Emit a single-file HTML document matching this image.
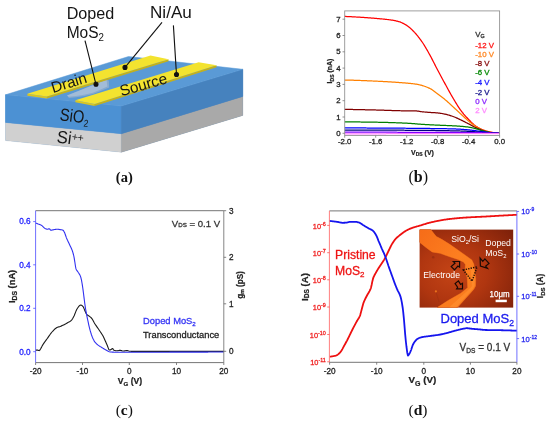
<!DOCTYPE html>
<html><head><meta charset="utf-8"><title>Figure</title>
<style>html,body{margin:0;padding:0;background:#fff;}svg{display:block;}</style></head>
<body>
<svg width="550" height="421" viewBox="0 0 550 421">
<rect width="550" height="421" fill="#fff"/>
<g id="pa">
<polygon points="5.5,94.8 121.4,106.0 121.4,152.2 5.5,140.6" fill="#4c91d3" />
<polygon points="121.4,106.0 242.8,69.3 242.8,115.4 121.4,152.2" fill="#4682be" />
<polygon points="5.5,122.4 121.4,133.7 121.4,152.2 5.5,140.6" fill="#d0d0d0" stroke="#d0d0d0" stroke-width="0.4"/>
<polygon points="121.4,133.7 242.8,96.4 242.8,115.4 121.4,152.2" fill="#a9a9a9" stroke="#a9a9a9" stroke-width="0.4"/>
<polygon points="5.5,94.8 121.4,106.0 121.4,133.7 5.5,122.4" fill="#4c91d3" stroke="#4c91d3" stroke-width="0.5"/>
<polygon points="121.4,106.0 242.8,69.3 242.8,96.4 121.4,133.7" fill="#4682be" stroke="#4682be" stroke-width="0.5"/>
<polygon points="5.5,94.8 121.4,106.0 242.8,69.3 128.5,56.5" fill="#5a9ad6" stroke="#5a9ad6" stroke-width="0.5"/>
<polygon points="67.1,95.6 106.5,79.8 108.8,80.6 109.2,87.4 100.0,91.2 93.2,93.9 84.5,95.9 76.0,97.2 69.0,97.9" fill="#88aace" />
<polygon points="67.1,95.6 106.5,79.8 107.4,86.6 99.5,90.0 92.8,92.7 84.0,94.7 76.0,96.0 68.6,96.8" fill="#a2bcd8" />
<polygon points="27.4,93.8 46.9,96.6 46.9,98.6 27.4,95.8" fill="#d9c522" />
<polygon points="46.9,96.6 168.5,59.2 168.5,61.2 46.9,98.6" fill="#c4b11c" />
<polygon points="27.4,93.8 46.9,96.6 168.5,59.2 150.5,55.5" fill="#f3e32f" />
<polygon points="75.4,100.3 94.7,104.1 94.7,106.1 75.4,102.3" fill="#d9c522" />
<polygon points="94.7,104.1 216.5,65.3 216.5,67.3 94.7,106.1" fill="#c4b11c" />
<polygon points="75.4,100.3 94.7,104.1 216.5,65.3 198.6,62.2" fill="#f3e32f" />
<g stroke="#111" stroke-width="1.1" fill="#111">
<line x1="85" y1="40.7" x2="96" y2="84.3"/><circle cx="96" cy="84.3" r="2"/>
<line x1="162" y1="22.4" x2="125" y2="67.4"/><circle cx="125" cy="67.4" r="2"/>
<line x1="173.4" y1="25.4" x2="176.5" y2="74.5"/><circle cx="176.5" cy="74.5" r="2"/>
</g>
<g font-family="Liberation Sans, sans-serif" fill="#151515">
<text x="66.7" y="19" font-size="16" textLength="47.6" lengthAdjust="spacingAndGlyphs">Doped</text>
<text x="66.7" y="38.2" font-size="16" textLength="37.3" lengthAdjust="spacingAndGlyphs">MoS<tspan font-size="10" dy="3">2</tspan></text>
<text x="150" y="18.3" font-size="16" textLength="41.8" lengthAdjust="spacingAndGlyphs">Ni/Au</text>
<text transform="translate(53,93) rotate(-17)" font-size="15.3">Drain</text>
<text transform="translate(121.5,96.3) rotate(-16)" font-size="15.3">Source</text>
<text transform="translate(59.3,120.2) rotate(7)" font-size="17.6" textLength="29.2" lengthAdjust="spacingAndGlyphs">SiO<tspan font-size="10" dy="3.4">2</tspan></text>
<text transform="translate(56.3,142.4) rotate(7)" font-size="17.6" textLength="26.8" lengthAdjust="spacingAndGlyphs">Si<tspan font-size="11" dy="-4">++</tspan></text>
</g>
<text x="124.3" y="181.7" font-family="Liberation Serif, serif" font-size="14.5" font-weight="bold" text-anchor="middle" fill="#111">(a)</text>
</g>
<g id="pb" font-family="Liberation Sans, sans-serif">
<path d="M344.70,16.43 L345.36,16.46 L346.03,16.49 L346.69,16.52 L347.36,16.55 L348.02,16.58 L348.69,16.61 L349.35,16.64 L350.02,16.67 L350.68,16.71 L351.35,16.74 L352.01,16.78 L352.68,16.81 L353.34,16.85 L354.01,16.88 L354.67,16.92 L355.34,16.96 L356.00,17.00 L356.67,17.03 L357.33,17.07 L358.00,17.11 L358.66,17.15 L359.33,17.19 L359.99,17.23 L360.19,17.24 L360.66,17.27 L361.32,17.31 L361.98,17.36 L362.65,17.40 L363.31,17.44 L363.98,17.49 L364.64,17.53 L365.31,17.58 L365.97,17.62 L366.64,17.67 L367.30,17.72 L367.97,17.77 L368.63,17.82 L369.30,17.87 L369.96,17.92 L370.63,17.97 L371.29,18.02 L371.96,18.07 L372.62,18.13 L373.29,18.18 L373.95,18.24 L374.62,18.29 L375.28,18.35 L375.68,18.39 L375.95,18.41 L376.61,18.47 L377.28,18.52 L377.94,18.58 L378.61,18.64 L379.27,18.70 L379.93,18.76 L380.60,18.82 L381.26,18.88 L381.93,18.94 L382.59,19.00 L383.26,19.07 L383.92,19.14 L384.59,19.20 L385.25,19.27 L385.92,19.35 L386.58,19.42 L387.25,19.50 L387.91,19.58 L388.58,19.66 L389.24,19.75 L389.91,19.84 L390.57,19.93 L391.17,20.02 L391.24,20.02 L391.90,20.12 L392.57,20.23 L393.23,20.34 L393.90,20.46 L394.56,20.59 L395.23,20.73 L395.89,20.87 L396.55,21.02 L397.22,21.18 L397.88,21.36 L398.55,21.54 L398.92,21.65 L399.21,21.74 L399.88,21.96 L400.54,22.20 L401.21,22.47 L401.87,22.76 L402.54,23.08 L403.20,23.41 L403.87,23.76 L404.53,24.13 L405.20,24.51 L405.86,24.90 L406.53,25.31 L406.66,25.39 L407.19,25.74 L407.86,26.21 L408.52,26.71 L409.19,27.24 L409.85,27.81 L410.52,28.40 L411.18,29.02 L411.85,29.65 L412.51,30.31 L413.18,30.97 L413.84,31.65 L414.41,32.24 L414.50,32.34 L415.17,33.05 L415.83,33.79 L416.50,34.56 L417.16,35.35 L417.83,36.17 L418.49,37.02 L419.16,37.88 L419.82,38.77 L420.49,39.67 L421.15,40.60 L421.82,41.54 L422.15,42.02 L422.48,42.50 L423.15,43.50 L423.81,44.54 L424.48,45.61 L425.14,46.70 L425.81,47.82 L426.47,48.97 L427.14,50.13 L427.80,51.30 L428.47,52.49 L429.13,53.68 L429.80,54.88 L429.90,55.06 L430.46,56.09 L431.12,57.33 L431.79,58.60 L432.45,59.89 L433.12,61.19 L433.78,62.50 L434.45,63.82 L435.11,65.14 L435.78,66.45 L436.44,67.75 L437.11,69.04 L437.64,70.06 L437.77,70.31 L438.44,71.56 L439.10,72.81 L439.77,74.06 L440.43,75.29 L441.10,76.53 L441.76,77.76 L442.43,78.99 L443.09,80.21 L443.76,81.43 L444.42,82.64 L445.09,83.86 L445.39,84.40 L445.75,85.07 L446.42,86.28 L447.08,87.50 L447.75,88.71 L448.41,89.93 L449.07,91.13 L449.74,92.34 L450.40,93.53 L451.07,94.70 L451.73,95.87 L452.40,97.02 L453.06,98.14 L453.13,98.26 L453.73,99.26 L454.39,100.38 L455.06,101.49 L455.72,102.60 L456.39,103.70 L457.05,104.78 L457.72,105.84 L458.38,106.88 L459.05,107.89 L459.71,108.86 L460.38,109.80 L460.88,110.48 L461.04,110.70 L461.71,111.57 L462.37,112.42 L463.04,113.24 L463.70,114.05 L464.37,114.83 L465.03,115.59 L465.69,116.34 L466.36,117.07 L467.02,117.79 L467.69,118.49 L468.35,119.17 L468.62,119.45 L469.02,119.85 L469.68,120.53 L470.35,121.20 L471.01,121.87 L471.68,122.52 L472.34,123.16 L473.01,123.78 L473.67,124.38 L474.34,124.95 L475.00,125.48 L475.67,125.98 L476.33,126.43 L476.37,126.45 L477.00,126.86 L477.66,127.27 L478.33,127.66 L478.99,128.04 L479.66,128.41 L480.32,128.75 L480.99,129.08 L481.65,129.39 L482.32,129.68 L482.98,129.95 L483.64,130.20 L484.11,130.37 L484.31,130.43 L484.97,130.65 L485.64,130.86 L486.30,131.05 L486.97,131.24 L487.63,131.42 L488.30,131.59 L488.96,131.74 L489.63,131.89 L490.29,132.03 L490.96,132.16 L491.62,132.28 L491.86,132.32 L492.29,132.39 L492.95,132.50 L493.62,132.61 L494.28,132.71 L494.95,132.81 L495.61,132.90 L496.28,132.98 L496.94,133.06 L497.61,133.13 L498.27,133.20 L498.94,133.25 L499.60,133.30" fill="none" stroke="#ff0000" stroke-width="1.25" stroke-linejoin="round"/>
<path d="M344.70,80.00 L345.36,80.01 L346.03,80.03 L346.69,80.05 L347.36,80.07 L348.02,80.08 L348.69,80.10 L349.35,80.12 L350.02,80.14 L350.68,80.16 L351.35,80.18 L352.01,80.20 L352.68,80.22 L353.34,80.24 L354.01,80.26 L354.67,80.28 L355.34,80.31 L356.00,80.33 L356.67,80.35 L357.33,80.38 L358.00,80.40 L358.66,80.42 L359.33,80.45 L359.99,80.47 L360.66,80.50 L361.32,80.52 L361.98,80.55 L362.65,80.58 L363.31,80.60 L363.98,80.63 L364.64,80.66 L365.31,80.68 L365.97,80.71 L366.64,80.74 L367.30,80.77 L367.97,80.79 L368.63,80.82 L369.30,80.85 L369.96,80.88 L370.63,80.91 L371.29,80.94 L371.96,80.97 L372.62,81.00 L373.29,81.03 L373.95,81.06 L374.62,81.09 L375.28,81.12 L375.68,81.14 L375.95,81.15 L376.61,81.18 L377.28,81.22 L377.94,81.25 L378.61,81.28 L379.27,81.31 L379.93,81.35 L380.60,81.38 L381.26,81.41 L381.93,81.45 L382.59,81.48 L383.26,81.52 L383.92,81.55 L384.59,81.59 L385.25,81.63 L385.92,81.66 L386.58,81.70 L387.25,81.74 L387.91,81.78 L388.58,81.82 L389.24,81.86 L389.91,81.90 L390.57,81.94 L391.24,81.98 L391.90,82.02 L392.57,82.06 L393.23,82.11 L393.90,82.15 L394.56,82.19 L395.23,82.24 L395.89,82.28 L396.55,82.33 L397.22,82.38 L397.88,82.42 L398.55,82.47 L399.21,82.52 L399.88,82.57 L400.54,82.62 L401.21,82.66 L401.87,82.72 L402.54,82.77 L403.20,82.82 L403.87,82.87 L404.53,82.92 L405.20,82.98 L405.86,83.03 L406.53,83.08 L406.66,83.10 L407.19,83.14 L407.86,83.20 L408.52,83.26 L409.19,83.32 L409.85,83.38 L410.52,83.45 L411.18,83.52 L411.85,83.59 L412.51,83.67 L413.18,83.75 L413.84,83.84 L414.41,83.91 L414.50,83.92 L415.17,84.02 L415.83,84.12 L416.50,84.23 L417.16,84.34 L417.83,84.47 L418.49,84.60 L419.16,84.74 L419.82,84.89 L419.83,84.89 L420.49,85.05 L421.15,85.22 L421.82,85.40 L422.48,85.59 L423.15,85.79 L423.81,86.01 L424.48,86.23 L425.14,86.47 L425.81,86.71 L426.47,86.97 L427.14,87.24 L427.80,87.52 L428.47,87.81 L429.13,88.11 L429.80,88.43 L429.90,88.48 L430.46,88.77 L431.12,89.15 L431.79,89.57 L432.45,90.03 L433.12,90.51 L433.78,91.01 L434.45,91.53 L435.11,92.06 L435.78,92.58 L436.44,93.11 L437.11,93.62 L437.64,94.02 L437.77,94.11 L438.44,94.60 L439.10,95.09 L439.77,95.58 L440.43,96.06 L441.10,96.56 L441.76,97.05 L442.43,97.55 L443.09,98.06 L443.76,98.58 L444.42,99.10 L445.09,99.64 L445.39,99.89 L445.75,100.19 L446.42,100.75 L447.08,101.33 L447.75,101.92 L448.41,102.52 L449.07,103.13 L449.74,103.75 L450.40,104.37 L451.07,104.99 L451.73,105.60 L452.40,106.22 L453.06,106.83 L453.13,106.89 L453.73,107.44 L454.39,108.06 L455.06,108.67 L455.72,109.29 L456.39,109.91 L457.05,110.53 L457.72,111.15 L458.38,111.76 L459.05,112.38 L459.71,113.00 L460.38,113.61 L460.88,114.07 L461.04,114.22 L461.71,114.83 L462.37,115.45 L463.04,116.07 L463.70,116.70 L464.37,117.32 L465.03,117.93 L465.69,118.54 L466.36,119.14 L467.02,119.73 L467.69,120.30 L468.35,120.86 L468.62,121.08 L469.02,121.40 L469.68,121.94 L470.35,122.47 L471.01,123.00 L471.68,123.52 L472.34,124.03 L473.01,124.53 L473.67,125.02 L474.34,125.48 L475.00,125.93 L475.67,126.36 L476.33,126.76 L476.37,126.78 L477.00,127.15 L477.66,127.53 L478.33,127.90 L478.99,128.26 L479.66,128.60 L480.32,128.94 L480.99,129.26 L481.65,129.57 L482.32,129.85 L482.98,130.12 L483.64,130.37 L484.11,130.53 L484.31,130.59 L484.97,130.81 L485.64,131.02 L486.30,131.22 L486.97,131.41 L487.63,131.59 L488.30,131.77 L488.96,131.93 L489.63,132.08 L490.29,132.21 L490.96,132.34 L491.62,132.45 L491.86,132.49 L492.29,132.55 L492.95,132.65 L493.62,132.74 L494.28,132.83 L494.95,132.91 L495.61,132.99 L496.28,133.07 L496.94,133.13 L497.61,133.19 L498.27,133.24 L498.94,133.27 L499.60,133.30" fill="none" stroke="#ff8000" stroke-width="1.25" stroke-linejoin="round"/>
<path d="M344.70,109.34 L345.36,109.35 L346.03,109.36 L346.69,109.38 L347.36,109.39 L348.02,109.40 L348.69,109.41 L349.35,109.43 L350.02,109.44 L350.68,109.45 L351.35,109.47 L352.01,109.48 L352.68,109.49 L353.34,109.51 L354.01,109.52 L354.67,109.53 L355.34,109.55 L356.00,109.56 L356.67,109.57 L357.33,109.59 L358.00,109.60 L358.66,109.61 L359.33,109.63 L359.99,109.64 L360.66,109.66 L361.32,109.67 L361.98,109.68 L362.65,109.70 L363.31,109.71 L363.98,109.73 L364.64,109.74 L365.31,109.76 L365.97,109.77 L366.64,109.79 L367.30,109.80 L367.97,109.81 L368.63,109.83 L369.30,109.84 L369.96,109.86 L370.63,109.87 L371.29,109.89 L371.96,109.90 L372.62,109.92 L373.29,109.94 L373.95,109.95 L374.62,109.97 L375.28,109.98 L375.68,109.99 L375.95,110.00 L376.61,110.01 L377.28,110.03 L377.94,110.05 L378.61,110.07 L379.27,110.09 L379.93,110.11 L380.60,110.13 L381.26,110.15 L381.93,110.17 L382.59,110.19 L383.26,110.21 L383.92,110.24 L384.59,110.26 L385.25,110.28 L385.92,110.31 L386.58,110.33 L387.25,110.35 L387.91,110.38 L388.58,110.40 L389.24,110.42 L389.91,110.45 L390.57,110.47 L391.24,110.49 L391.90,110.51 L392.57,110.54 L393.23,110.56 L393.90,110.58 L394.56,110.60 L395.23,110.62 L395.89,110.64 L396.55,110.65 L397.22,110.67 L397.88,110.69 L398.55,110.70 L399.21,110.72 L399.88,110.73 L400.54,110.75 L401.21,110.76 L401.87,110.77 L402.54,110.78 L403.20,110.79 L403.87,110.79 L404.53,110.80 L405.20,110.80 L405.86,110.80 L406.53,110.81 L406.66,110.81 L407.19,110.81 L407.86,110.81 L408.52,110.81 L409.19,110.81 L409.85,110.81 L410.52,110.81 L411.18,110.81 L411.85,110.81 L412.51,110.81 L413.18,110.81 L413.84,110.81 L414.41,110.81 L414.50,110.81 L415.17,110.83 L415.83,110.87 L416.50,110.94 L417.16,111.03 L417.83,111.13 L418.49,111.23 L419.16,111.35 L419.82,111.46 L420.49,111.56 L421.15,111.66 L421.82,111.75 L422.15,111.78 L422.48,111.82 L423.15,111.88 L423.81,111.94 L424.48,112.00 L425.14,112.06 L425.81,112.12 L426.47,112.17 L427.14,112.23 L427.80,112.28 L428.47,112.33 L429.13,112.38 L429.80,112.43 L429.90,112.44 L430.46,112.47 L431.12,112.52 L431.79,112.56 L432.45,112.59 L433.12,112.63 L433.78,112.66 L434.45,112.70 L435.11,112.74 L435.78,112.78 L436.44,112.83 L437.11,112.88 L437.64,112.93 L437.77,112.94 L438.44,113.01 L439.10,113.09 L439.77,113.18 L440.43,113.28 L441.10,113.39 L441.76,113.50 L442.43,113.63 L443.09,113.75 L443.76,113.89 L444.42,114.02 L445.09,114.17 L445.39,114.23 L445.75,114.31 L446.42,114.46 L447.08,114.63 L447.75,114.80 L448.41,114.99 L449.07,115.18 L449.74,115.38 L450.40,115.59 L451.07,115.81 L451.73,116.03 L452.40,116.26 L453.06,116.49 L453.13,116.51 L453.73,116.73 L454.39,116.99 L455.06,117.26 L455.72,117.54 L456.39,117.83 L457.05,118.13 L457.72,118.44 L458.38,118.75 L459.05,119.07 L459.71,119.38 L460.38,119.70 L460.88,119.93 L461.04,120.01 L461.71,120.33 L462.37,120.65 L463.04,120.98 L463.70,121.32 L464.37,121.65 L465.03,121.99 L465.69,122.33 L466.36,122.68 L467.02,123.02 L467.69,123.37 L468.35,123.71 L468.62,123.85 L469.02,124.05 L469.68,124.41 L470.35,124.77 L471.01,125.13 L471.68,125.50 L472.34,125.86 L473.01,126.22 L473.67,126.58 L474.34,126.93 L475.00,127.27 L475.67,127.59 L476.33,127.91 L476.37,127.92 L477.00,128.21 L477.66,128.51 L478.33,128.81 L478.99,129.11 L479.66,129.40 L480.32,129.68 L480.99,129.95 L481.65,130.21 L482.32,130.45 L482.98,130.68 L483.64,130.88 L484.11,131.02 L484.31,131.07 L484.97,131.25 L485.64,131.43 L486.30,131.59 L486.97,131.75 L487.63,131.91 L488.30,132.05 L488.96,132.19 L489.63,132.31 L490.29,132.43 L490.96,132.53 L491.62,132.62 L491.86,132.65 L492.29,132.70 L492.95,132.78 L493.62,132.85 L494.28,132.93 L494.95,133.00 L495.61,133.06 L496.28,133.12 L496.94,133.17 L497.61,133.22 L498.27,133.25 L498.94,133.28 L499.60,133.30" fill="none" stroke="#800000" stroke-width="1.25" stroke-linejoin="round"/>
<path d="M344.70,121.89 L345.36,121.89 L346.03,121.89 L346.69,121.89 L347.36,121.89 L348.02,121.90 L348.69,121.90 L349.35,121.90 L350.02,121.90 L350.68,121.91 L351.35,121.91 L352.01,121.92 L352.68,121.92 L353.34,121.92 L354.01,121.93 L354.67,121.94 L355.34,121.94 L356.00,121.95 L356.67,121.95 L357.33,121.96 L358.00,121.97 L358.66,121.97 L359.33,121.98 L359.99,121.99 L360.66,122.00 L361.32,122.01 L361.98,122.01 L362.65,122.02 L363.31,122.03 L363.98,122.04 L364.64,122.05 L365.31,122.06 L365.97,122.07 L366.64,122.08 L367.30,122.09 L367.97,122.10 L368.63,122.11 L369.30,122.12 L369.96,122.13 L370.63,122.14 L371.29,122.15 L371.96,122.16 L372.62,122.17 L373.29,122.18 L373.95,122.19 L374.62,122.20 L375.28,122.21 L375.68,122.22 L375.95,122.22 L376.61,122.23 L377.28,122.24 L377.94,122.25 L378.61,122.27 L379.27,122.28 L379.93,122.29 L380.60,122.31 L381.26,122.32 L381.93,122.34 L382.59,122.35 L383.26,122.37 L383.92,122.38 L384.59,122.40 L385.25,122.42 L385.92,122.43 L386.58,122.45 L387.25,122.47 L387.91,122.49 L388.58,122.51 L389.24,122.53 L389.91,122.55 L390.57,122.57 L391.24,122.59 L391.90,122.61 L392.57,122.63 L393.23,122.65 L393.90,122.68 L394.56,122.70 L395.23,122.72 L395.89,122.75 L396.55,122.77 L397.22,122.80 L397.88,122.82 L398.55,122.85 L399.21,122.87 L399.88,122.90 L400.54,122.93 L401.21,122.96 L401.87,122.98 L402.54,123.01 L403.20,123.04 L403.87,123.07 L404.53,123.10 L405.20,123.13 L405.86,123.16 L406.53,123.19 L406.66,123.19 L407.19,123.22 L407.86,123.26 L408.52,123.29 L409.19,123.34 L409.85,123.38 L410.52,123.43 L411.18,123.48 L411.85,123.53 L412.51,123.58 L413.18,123.63 L413.84,123.69 L414.50,123.74 L415.17,123.80 L415.83,123.86 L416.50,123.91 L417.16,123.97 L417.83,124.02 L418.49,124.07 L419.16,124.13 L419.82,124.18 L420.49,124.22 L421.15,124.27 L421.82,124.31 L422.15,124.34 L422.48,124.36 L423.15,124.40 L423.81,124.43 L424.48,124.47 L425.14,124.51 L425.81,124.55 L426.47,124.59 L427.14,124.62 L427.80,124.66 L428.47,124.70 L429.13,124.73 L429.80,124.77 L430.46,124.80 L431.12,124.83 L431.79,124.87 L432.45,124.90 L433.12,124.93 L433.78,124.97 L434.45,125.00 L435.11,125.03 L435.78,125.06 L436.44,125.09 L437.11,125.13 L437.64,125.15 L437.77,125.16 L438.44,125.19 L439.10,125.22 L439.77,125.24 L440.43,125.27 L441.10,125.30 L441.76,125.32 L442.43,125.35 L443.09,125.37 L443.76,125.40 L444.42,125.42 L445.09,125.45 L445.75,125.47 L446.42,125.50 L447.08,125.52 L447.75,125.55 L448.41,125.58 L449.07,125.60 L449.74,125.63 L450.40,125.66 L451.07,125.69 L451.73,125.73 L452.40,125.76 L453.06,125.80 L453.13,125.80 L453.73,125.84 L454.39,125.87 L455.06,125.91 L455.72,125.95 L456.39,125.99 L457.05,126.04 L457.72,126.08 L458.38,126.13 L459.05,126.17 L459.71,126.22 L460.38,126.27 L461.04,126.32 L461.71,126.38 L462.37,126.44 L463.04,126.49 L463.70,126.56 L464.37,126.62 L465.03,126.69 L465.69,126.76 L466.36,126.83 L467.02,126.91 L467.69,126.99 L468.35,127.07 L468.62,127.11 L469.02,127.16 L469.68,127.27 L470.35,127.39 L471.01,127.53 L471.68,127.68 L472.34,127.84 L473.01,128.01 L473.67,128.18 L474.34,128.36 L475.00,128.54 L475.67,128.72 L476.33,128.89 L476.37,128.90 L477.00,129.07 L477.66,129.26 L478.33,129.46 L478.99,129.66 L479.66,129.87 L480.32,130.08 L480.99,130.29 L481.65,130.49 L482.32,130.69 L482.98,130.88 L483.64,131.06 L484.11,131.18 L484.31,131.23 L484.97,131.40 L485.64,131.56 L486.30,131.73 L486.97,131.90 L487.63,132.06 L488.30,132.21 L488.96,132.35 L489.63,132.49 L490.29,132.60 L490.96,132.70 L491.62,132.79 L491.86,132.81 L492.29,132.85 L492.95,132.92 L493.62,132.98 L494.28,133.04 L494.95,133.09 L495.61,133.14 L496.28,133.19 L496.94,133.22 L497.61,133.26 L498.27,133.28 L498.94,133.29 L499.60,133.30" fill="none" stroke="#008000" stroke-width="1.25" stroke-linejoin="round"/>
<path d="M344.70,127.92 L345.36,127.92 L346.03,127.92 L346.69,127.93 L347.36,127.93 L348.02,127.93 L348.69,127.93 L349.35,127.93 L350.02,127.93 L350.68,127.94 L351.35,127.94 L352.01,127.94 L352.68,127.94 L353.34,127.94 L354.01,127.95 L354.67,127.95 L355.34,127.95 L356.00,127.95 L356.67,127.96 L357.33,127.96 L358.00,127.96 L358.66,127.96 L359.33,127.97 L359.99,127.97 L360.66,127.97 L361.32,127.97 L361.98,127.98 L362.65,127.98 L363.31,127.98 L363.98,127.99 L364.64,127.99 L365.31,127.99 L365.97,127.99 L366.64,128.00 L367.30,128.00 L367.97,128.00 L368.63,128.01 L369.30,128.01 L369.96,128.01 L370.63,128.02 L371.29,128.02 L371.96,128.02 L372.62,128.03 L373.29,128.03 L373.95,128.03 L374.62,128.04 L375.28,128.04 L375.95,128.04 L376.61,128.05 L377.28,128.05 L377.94,128.05 L378.61,128.06 L379.27,128.06 L379.93,128.06 L380.60,128.07 L381.26,128.07 L381.93,128.08 L382.59,128.08 L383.26,128.08 L383.43,128.08 L383.92,128.09 L384.59,128.09 L385.25,128.09 L385.92,128.10 L386.58,128.10 L387.25,128.11 L387.91,128.11 L388.58,128.11 L389.24,128.12 L389.91,128.12 L390.57,128.13 L391.24,128.13 L391.90,128.14 L392.57,128.14 L393.23,128.15 L393.90,128.15 L394.56,128.16 L395.23,128.16 L395.89,128.17 L396.55,128.17 L397.22,128.18 L397.88,128.18 L398.55,128.19 L399.21,128.19 L399.88,128.20 L400.54,128.20 L401.21,128.21 L401.87,128.21 L402.54,128.22 L403.20,128.22 L403.87,128.23 L404.53,128.24 L405.20,128.24 L405.86,128.25 L406.53,128.25 L407.19,128.26 L407.86,128.27 L408.52,128.27 L409.19,128.28 L409.85,128.28 L410.52,128.29 L411.18,128.30 L411.85,128.30 L412.51,128.31 L413.18,128.32 L413.84,128.32 L414.50,128.33 L415.17,128.34 L415.83,128.34 L416.50,128.35 L417.16,128.36 L417.83,128.36 L418.49,128.37 L419.16,128.38 L419.82,128.38 L420.49,128.39 L421.15,128.40 L421.82,128.41 L422.15,128.41 L422.48,128.41 L423.15,128.42 L423.81,128.43 L424.48,128.44 L425.14,128.44 L425.81,128.45 L426.47,128.46 L427.14,128.46 L427.80,128.47 L428.47,128.48 L429.13,128.49 L429.80,128.49 L430.46,128.50 L431.12,128.51 L431.79,128.52 L432.45,128.53 L433.12,128.53 L433.78,128.54 L434.45,128.55 L435.11,128.56 L435.78,128.57 L436.44,128.58 L437.11,128.59 L437.77,128.59 L438.44,128.60 L439.10,128.61 L439.77,128.62 L440.43,128.63 L441.10,128.64 L441.76,128.66 L442.43,128.67 L443.09,128.68 L443.76,128.69 L444.42,128.70 L445.09,128.72 L445.75,128.73 L446.42,128.74 L447.08,128.75 L447.75,128.77 L448.41,128.78 L449.07,128.80 L449.74,128.81 L450.40,128.83 L451.07,128.85 L451.73,128.86 L452.40,128.88 L453.06,128.90 L453.13,128.90 L453.73,128.92 L454.39,128.94 L455.06,128.96 L455.72,128.99 L456.39,129.02 L457.05,129.05 L457.72,129.09 L458.38,129.12 L459.05,129.16 L459.71,129.20 L460.38,129.24 L461.04,129.29 L461.71,129.33 L462.37,129.38 L463.04,129.43 L463.70,129.48 L464.37,129.53 L465.03,129.58 L465.69,129.63 L466.36,129.69 L467.02,129.74 L467.69,129.80 L468.35,129.85 L468.62,129.88 L469.02,129.91 L469.68,129.98 L470.35,130.04 L471.01,130.12 L471.68,130.20 L472.34,130.28 L473.01,130.36 L473.67,130.45 L474.34,130.54 L475.00,130.63 L475.67,130.72 L476.33,130.82 L477.00,130.91 L477.66,131.00 L478.33,131.09 L478.99,131.18 L479.66,131.27 L480.24,131.34 L480.32,131.35 L480.99,131.44 L481.65,131.53 L482.32,131.62 L482.98,131.71 L483.64,131.81 L484.31,131.90 L484.97,131.99 L485.64,132.09 L486.30,132.18 L486.97,132.27 L487.63,132.35 L488.30,132.44 L488.96,132.52 L489.63,132.59 L490.29,132.67 L490.96,132.73 L491.62,132.79 L491.86,132.81 L492.29,132.85 L492.95,132.90 L493.62,132.95 L494.28,133.00 L494.95,133.05 L495.61,133.09 L496.28,133.13 L496.94,133.17 L497.61,133.21 L498.27,133.24 L498.94,133.27 L499.60,133.30" fill="none" stroke="#0000ff" stroke-width="1.25" stroke-linejoin="round"/>
<path d="M344.70,130.04 L345.36,130.04 L346.03,130.04 L346.69,130.04 L347.36,130.04 L348.02,130.04 L348.69,130.04 L349.35,130.04 L350.02,130.04 L350.68,130.04 L351.35,130.04 L352.01,130.04 L352.68,130.04 L353.34,130.05 L354.01,130.05 L354.67,130.05 L355.34,130.05 L356.00,130.05 L356.67,130.05 L357.33,130.05 L358.00,130.05 L358.66,130.05 L359.33,130.05 L359.99,130.06 L360.66,130.06 L361.32,130.06 L361.98,130.06 L362.65,130.06 L363.31,130.06 L363.98,130.06 L364.64,130.07 L365.31,130.07 L365.97,130.07 L366.64,130.07 L367.30,130.07 L367.97,130.08 L368.63,130.08 L369.30,130.08 L369.96,130.08 L370.63,130.08 L371.29,130.09 L371.96,130.09 L372.62,130.09 L373.29,130.09 L373.95,130.09 L374.62,130.10 L375.28,130.10 L375.95,130.10 L376.61,130.10 L377.28,130.11 L377.94,130.11 L378.61,130.11 L379.27,130.12 L379.93,130.12 L380.60,130.12 L381.26,130.12 L381.93,130.13 L382.59,130.13 L383.26,130.13 L383.92,130.14 L384.59,130.14 L385.25,130.14 L385.92,130.14 L386.58,130.15 L387.25,130.15 L387.91,130.15 L388.58,130.16 L389.24,130.16 L389.91,130.16 L390.57,130.17 L391.24,130.17 L391.90,130.17 L392.57,130.18 L393.23,130.18 L393.90,130.19 L394.56,130.19 L395.23,130.19 L395.89,130.20 L396.55,130.20 L397.22,130.20 L397.88,130.21 L398.55,130.21 L399.21,130.22 L399.88,130.22 L400.54,130.22 L401.21,130.23 L401.87,130.23 L402.54,130.23 L403.20,130.24 L403.87,130.24 L404.53,130.25 L405.20,130.25 L405.86,130.26 L406.53,130.26 L407.19,130.26 L407.86,130.27 L408.52,130.27 L409.19,130.28 L409.85,130.28 L410.52,130.29 L411.18,130.29 L411.85,130.29 L412.51,130.30 L413.18,130.30 L413.84,130.31 L414.50,130.31 L415.17,130.32 L415.83,130.32 L416.50,130.33 L417.16,130.33 L417.83,130.34 L418.49,130.34 L419.16,130.34 L419.82,130.35 L420.49,130.35 L421.15,130.36 L421.82,130.36 L422.15,130.37 L422.48,130.37 L423.15,130.37 L423.81,130.38 L424.48,130.38 L425.14,130.39 L425.81,130.40 L426.47,130.40 L427.14,130.41 L427.80,130.41 L428.47,130.42 L429.13,130.43 L429.80,130.43 L430.46,130.44 L431.12,130.45 L431.79,130.46 L432.45,130.46 L433.12,130.47 L433.78,130.48 L434.45,130.49 L435.11,130.50 L435.78,130.51 L436.44,130.52 L437.11,130.53 L437.77,130.54 L438.44,130.55 L439.10,130.56 L439.77,130.57 L440.43,130.58 L441.10,130.59 L441.76,130.60 L442.43,130.61 L443.09,130.62 L443.76,130.63 L444.42,130.64 L445.09,130.66 L445.75,130.67 L446.42,130.68 L447.08,130.69 L447.75,130.71 L448.41,130.72 L449.07,130.73 L449.74,130.75 L450.40,130.76 L451.07,130.78 L451.73,130.79 L452.40,130.81 L453.06,130.82 L453.73,130.84 L454.39,130.85 L455.06,130.87 L455.72,130.88 L456.39,130.90 L457.05,130.92 L457.72,130.93 L458.38,130.95 L459.05,130.97 L459.71,130.99 L460.38,131.00 L460.88,131.02 L461.04,131.02 L461.71,131.04 L462.37,131.06 L463.04,131.09 L463.70,131.12 L464.37,131.14 L465.03,131.17 L465.69,131.21 L466.36,131.24 L467.02,131.27 L467.69,131.31 L468.35,131.34 L469.02,131.38 L469.68,131.42 L470.35,131.46 L471.01,131.50 L471.68,131.54 L472.34,131.58 L473.01,131.62 L473.67,131.67 L474.34,131.71 L475.00,131.75 L475.67,131.79 L476.33,131.83 L476.37,131.83 L477.00,131.87 L477.66,131.92 L478.33,131.96 L478.99,132.01 L479.66,132.06 L480.32,132.11 L480.99,132.17 L481.65,132.22 L482.32,132.27 L482.98,132.33 L483.64,132.38 L484.31,132.44 L484.97,132.49 L485.64,132.55 L486.30,132.60 L486.97,132.65 L487.63,132.70 L488.30,132.75 L488.96,132.80 L489.63,132.84 L490.29,132.88 L490.96,132.92 L491.62,132.96 L491.86,132.97 L492.29,133.00 L492.95,133.03 L493.62,133.06 L494.28,133.09 L494.95,133.12 L495.61,133.15 L496.28,133.18 L496.94,133.21 L497.61,133.23 L498.27,133.26 L498.94,133.28 L499.60,133.30" fill="none" stroke="#000080" stroke-width="1.25" stroke-linejoin="round"/>
<path d="M344.70,132.16 L345.36,132.16 L346.03,132.16 L346.69,132.16 L347.36,132.16 L348.02,132.16 L348.69,132.16 L349.35,132.16 L350.02,132.16 L350.68,132.16 L351.35,132.16 L352.01,132.16 L352.68,132.16 L353.34,132.16 L354.01,132.16 L354.67,132.16 L355.34,132.16 L356.00,132.16 L356.67,132.16 L357.33,132.17 L358.00,132.17 L358.66,132.17 L359.33,132.17 L359.99,132.17 L360.66,132.17 L361.32,132.17 L361.98,132.17 L362.65,132.17 L363.31,132.17 L363.98,132.17 L364.64,132.17 L365.31,132.17 L365.97,132.18 L366.64,132.18 L367.30,132.18 L367.97,132.18 L368.63,132.18 L369.30,132.18 L369.96,132.18 L370.63,132.18 L371.29,132.18 L371.96,132.19 L372.62,132.19 L373.29,132.19 L373.95,132.19 L374.62,132.19 L375.28,132.19 L375.95,132.19 L376.61,132.19 L377.28,132.20 L377.94,132.20 L378.61,132.20 L379.27,132.20 L379.93,132.20 L380.60,132.20 L381.26,132.20 L381.93,132.21 L382.59,132.21 L383.26,132.21 L383.92,132.21 L384.59,132.21 L385.25,132.21 L385.92,132.22 L386.58,132.22 L387.25,132.22 L387.91,132.22 L388.58,132.22 L389.24,132.22 L389.91,132.23 L390.57,132.23 L391.24,132.23 L391.90,132.23 L392.57,132.23 L393.23,132.23 L393.90,132.24 L394.56,132.24 L395.23,132.24 L395.89,132.24 L396.55,132.24 L397.22,132.25 L397.88,132.25 L398.55,132.25 L399.21,132.25 L399.88,132.25 L400.54,132.25 L401.21,132.26 L401.87,132.26 L402.54,132.26 L403.20,132.26 L403.87,132.26 L404.53,132.27 L405.20,132.27 L405.86,132.27 L406.53,132.27 L407.19,132.27 L407.86,132.28 L408.52,132.28 L409.19,132.28 L409.85,132.28 L410.52,132.29 L411.18,132.29 L411.85,132.29 L412.51,132.29 L413.18,132.29 L413.84,132.30 L414.50,132.30 L415.17,132.30 L415.83,132.30 L416.50,132.30 L417.16,132.31 L417.83,132.31 L418.49,132.31 L419.16,132.31 L419.82,132.31 L420.49,132.32 L421.15,132.32 L421.82,132.32 L422.15,132.32 L422.48,132.32 L423.15,132.33 L423.81,132.33 L424.48,132.33 L425.14,132.33 L425.81,132.33 L426.47,132.34 L427.14,132.34 L427.80,132.34 L428.47,132.34 L429.13,132.35 L429.80,132.35 L430.46,132.35 L431.12,132.35 L431.79,132.35 L432.45,132.36 L433.12,132.36 L433.78,132.36 L434.45,132.36 L435.11,132.37 L435.78,132.37 L436.44,132.37 L437.11,132.38 L437.77,132.38 L438.44,132.38 L439.10,132.38 L439.77,132.39 L440.43,132.39 L441.10,132.39 L441.76,132.40 L442.43,132.40 L443.09,132.40 L443.76,132.41 L444.42,132.41 L445.09,132.41 L445.75,132.41 L446.42,132.42 L447.08,132.42 L447.75,132.43 L448.41,132.43 L449.07,132.43 L449.74,132.44 L450.40,132.44 L451.07,132.44 L451.73,132.45 L452.40,132.45 L453.06,132.46 L453.73,132.46 L454.39,132.46 L455.06,132.47 L455.72,132.47 L456.39,132.48 L457.05,132.48 L457.72,132.49 L458.38,132.49 L459.05,132.49 L459.71,132.50 L460.38,132.50 L461.04,132.51 L461.71,132.51 L462.37,132.52 L463.04,132.52 L463.70,132.53 L464.37,132.53 L465.03,132.54 L465.69,132.55 L466.36,132.55 L467.02,132.56 L467.69,132.56 L468.35,132.57 L469.02,132.57 L469.68,132.58 L470.35,132.59 L471.01,132.59 L471.68,132.60 L472.34,132.61 L473.01,132.61 L473.67,132.62 L474.34,132.63 L475.00,132.63 L475.67,132.64 L476.33,132.65 L476.37,132.65 L477.00,132.66 L477.66,132.66 L478.33,132.67 L478.99,132.68 L479.66,132.70 L480.32,132.71 L480.99,132.72 L481.65,132.74 L482.32,132.75 L482.98,132.77 L483.64,132.78 L484.31,132.80 L484.97,132.82 L485.64,132.84 L486.30,132.85 L486.97,132.87 L487.63,132.89 L488.30,132.91 L488.96,132.94 L489.63,132.96 L490.29,132.98 L490.96,133.00 L491.62,133.02 L492.29,133.04 L492.95,133.07 L493.62,133.09 L494.28,133.11 L494.95,133.14 L495.61,133.16 L496.28,133.18 L496.94,133.21 L497.61,133.23 L498.27,133.25 L498.94,133.28 L499.60,133.30" fill="none" stroke="#8000ff" stroke-width="1.25" stroke-linejoin="round"/>
<path d="M344.70,133.79 L345.36,133.79 L346.03,133.79 L346.69,133.79 L347.36,133.79 L348.02,133.79 L348.69,133.78 L349.35,133.78 L350.02,133.78 L350.68,133.78 L351.35,133.78 L352.01,133.78 L352.68,133.78 L353.34,133.78 L354.01,133.78 L354.67,133.78 L355.34,133.78 L356.00,133.78 L356.67,133.78 L357.33,133.78 L358.00,133.78 L358.66,133.77 L359.33,133.77 L359.99,133.77 L360.66,133.77 L361.32,133.77 L361.98,133.77 L362.65,133.77 L363.31,133.77 L363.98,133.77 L364.64,133.77 L365.31,133.77 L365.97,133.77 L366.64,133.77 L367.30,133.77 L367.97,133.76 L368.63,133.76 L369.30,133.76 L369.96,133.76 L370.63,133.76 L371.29,133.76 L371.96,133.76 L372.62,133.76 L373.29,133.76 L373.95,133.76 L374.62,133.76 L375.28,133.76 L375.95,133.76 L376.61,133.76 L377.28,133.75 L377.94,133.75 L378.61,133.75 L379.27,133.75 L379.93,133.75 L380.60,133.75 L381.26,133.75 L381.93,133.75 L382.59,133.75 L383.26,133.75 L383.92,133.75 L384.59,133.75 L385.25,133.75 L385.92,133.75 L386.58,133.74 L387.25,133.74 L387.91,133.74 L388.58,133.74 L389.24,133.74 L389.91,133.74 L390.57,133.74 L391.24,133.74 L391.90,133.74 L392.57,133.74 L393.23,133.74 L393.90,133.74 L394.56,133.74 L395.23,133.74 L395.89,133.74 L396.55,133.73 L397.22,133.73 L397.88,133.73 L398.55,133.73 L399.21,133.73 L399.88,133.73 L400.54,133.73 L401.21,133.73 L401.87,133.73 L402.54,133.73 L403.20,133.73 L403.87,133.73 L404.53,133.73 L405.20,133.73 L405.86,133.72 L406.53,133.72 L407.19,133.72 L407.86,133.72 L408.52,133.72 L409.19,133.72 L409.85,133.72 L410.52,133.72 L411.18,133.72 L411.85,133.72 L412.51,133.72 L413.18,133.72 L413.84,133.72 L414.50,133.72 L415.17,133.71 L415.83,133.71 L416.50,133.71 L417.16,133.71 L417.83,133.71 L418.49,133.71 L419.16,133.71 L419.82,133.71 L420.49,133.71 L421.15,133.71 L421.82,133.71 L422.48,133.71 L423.15,133.71 L423.81,133.71 L424.48,133.71 L425.14,133.70 L425.81,133.70 L426.47,133.70 L427.14,133.70 L427.80,133.70 L428.47,133.70 L429.13,133.70 L429.80,133.70 L430.46,133.70 L431.12,133.70 L431.79,133.70 L432.45,133.70 L433.12,133.70 L433.78,133.70 L434.45,133.69 L435.11,133.69 L435.78,133.69 L436.44,133.69 L437.11,133.69 L437.77,133.69 L438.44,133.69 L439.10,133.69 L439.77,133.69 L440.43,133.69 L441.10,133.69 L441.76,133.69 L442.43,133.69 L443.09,133.69 L443.76,133.68 L444.42,133.68 L445.09,133.68 L445.75,133.68 L446.42,133.68 L447.08,133.68 L447.75,133.68 L448.41,133.68 L449.07,133.68 L449.74,133.68 L450.40,133.68 L451.07,133.68 L451.73,133.68 L452.40,133.68 L453.06,133.67 L453.73,133.67 L454.39,133.67 L455.06,133.67 L455.72,133.67 L456.39,133.67 L457.05,133.67 L457.72,133.67 L458.38,133.67 L459.05,133.67 L459.71,133.67 L460.38,133.67 L461.04,133.67 L461.71,133.67 L462.37,133.67 L463.04,133.66 L463.70,133.66 L464.37,133.66 L465.03,133.66 L465.69,133.66 L466.36,133.66 L467.02,133.66 L467.69,133.66 L468.35,133.66 L469.02,133.66 L469.68,133.66 L470.35,133.66 L471.01,133.66 L471.68,133.66 L472.34,133.65 L473.01,133.65 L473.67,133.65 L474.34,133.65 L475.00,133.65 L475.67,133.65 L476.33,133.65 L477.00,133.65 L477.66,133.65 L478.33,133.65 L478.99,133.65 L479.66,133.65 L480.32,133.65 L480.99,133.65 L481.65,133.64 L482.32,133.64 L482.98,133.64 L483.64,133.64 L484.31,133.64 L484.97,133.64 L485.64,133.64 L486.30,133.64 L486.97,133.64 L487.63,133.64 L488.30,133.64 L488.96,133.64 L489.63,133.64 L490.29,133.64 L490.96,133.64 L491.62,133.63 L492.29,133.63 L492.95,133.63 L493.62,133.63 L494.28,133.63 L494.95,133.63 L495.61,133.63 L496.28,133.63 L496.94,133.63 L497.61,133.63 L498.27,133.63 L498.94,133.63 L499.60,133.63" fill="none" stroke="#ff80ff" stroke-width="1.25" stroke-linejoin="round"/>
<rect x="344.7" y="10.9" width="154.90000000000003" height="124.6" fill="none" stroke="#949494" stroke-width="0.9"/>
<line x1="342.5" y1="133.3" x2="344.7" y2="133.3" stroke="#777" stroke-width="0.8"/>
<text x="340.7" y="135.9" font-size="7.8" text-anchor="end" fill="#222" stroke="#222" stroke-width="0.28">0</text>
<line x1="342.5" y1="117.0" x2="344.7" y2="117.0" stroke="#777" stroke-width="0.8"/>
<text x="340.7" y="119.6" font-size="7.8" text-anchor="end" fill="#222" stroke="#222" stroke-width="0.28">1</text>
<line x1="342.5" y1="100.7" x2="344.7" y2="100.7" stroke="#777" stroke-width="0.8"/>
<text x="340.7" y="103.3" font-size="7.8" text-anchor="end" fill="#222" stroke="#222" stroke-width="0.28">2</text>
<line x1="342.5" y1="84.4" x2="344.7" y2="84.4" stroke="#777" stroke-width="0.8"/>
<text x="340.7" y="87.0" font-size="7.8" text-anchor="end" fill="#222" stroke="#222" stroke-width="0.28">3</text>
<line x1="342.5" y1="68.1" x2="344.7" y2="68.1" stroke="#777" stroke-width="0.8"/>
<text x="340.7" y="70.7" font-size="7.8" text-anchor="end" fill="#222" stroke="#222" stroke-width="0.28">4</text>
<line x1="342.5" y1="51.8" x2="344.7" y2="51.8" stroke="#777" stroke-width="0.8"/>
<text x="340.7" y="54.4" font-size="7.8" text-anchor="end" fill="#222" stroke="#222" stroke-width="0.28">5</text>
<line x1="342.5" y1="35.5" x2="344.7" y2="35.5" stroke="#777" stroke-width="0.8"/>
<text x="340.7" y="38.1" font-size="7.8" text-anchor="end" fill="#222" stroke="#222" stroke-width="0.28">6</text>
<line x1="342.5" y1="19.2" x2="344.7" y2="19.2" stroke="#777" stroke-width="0.8"/>
<text x="340.7" y="21.8" font-size="7.8" text-anchor="end" fill="#222" stroke="#222" stroke-width="0.28">7</text>
<line x1="344.7" y1="135.5" x2="344.7" y2="137.7" stroke="#777" stroke-width="0.8"/>
<text x="344.7" y="144.3" font-size="7.8" text-anchor="middle" fill="#222" stroke="#222" stroke-width="0.28">-2.0</text>
<line x1="375.7" y1="135.5" x2="375.7" y2="137.7" stroke="#777" stroke-width="0.8"/>
<text x="375.7" y="144.3" font-size="7.8" text-anchor="middle" fill="#222" stroke="#222" stroke-width="0.28">-1.6</text>
<line x1="406.7" y1="135.5" x2="406.7" y2="137.7" stroke="#777" stroke-width="0.8"/>
<text x="406.7" y="144.3" font-size="7.8" text-anchor="middle" fill="#222" stroke="#222" stroke-width="0.28">-1.2</text>
<line x1="437.6" y1="135.5" x2="437.6" y2="137.7" stroke="#777" stroke-width="0.8"/>
<text x="437.6" y="144.3" font-size="7.8" text-anchor="middle" fill="#222" stroke="#222" stroke-width="0.28">-0.8</text>
<line x1="468.6" y1="135.5" x2="468.6" y2="137.7" stroke="#777" stroke-width="0.8"/>
<text x="468.6" y="144.3" font-size="7.8" text-anchor="middle" fill="#222" stroke="#222" stroke-width="0.28">-0.4</text>
<line x1="499.6" y1="135.5" x2="499.6" y2="137.7" stroke="#777" stroke-width="0.8"/>
<text x="499.6" y="144.3" font-size="7.8" text-anchor="middle" fill="#222" stroke="#222" stroke-width="0.28">0.0</text>
<text x="422.5" y="154.6" font-size="7" font-weight="bold" text-anchor="middle" fill="#222" stroke="#222" stroke-width="0.22">V<tspan font-size="5" dy="1.2">DS</tspan><tspan dy="-1.2"> (V)</tspan></text>
<text transform="translate(332.3,71) rotate(-90)" font-size="7" font-weight="bold" text-anchor="middle" fill="#222" stroke="#222" stroke-width="0.22">I<tspan font-size="5" dy="1.2">DS</tspan><tspan dy="-1.2"> (nA)</tspan></text>
<text x="475.2" y="36.6" font-size="7.85" fill="#333" stroke="#333" stroke-width="0.3">V<tspan font-size="5.4" dy="1.3">G</tspan></text>
<text x="475.2" y="48" font-size="7.85" fill="#ff1818" stroke="#ff1818" stroke-width="0.3">-12 V</text>
<text x="475.2" y="57" font-size="7.85" fill="#ff8a28" stroke="#ff8a28" stroke-width="0.3">-10 V</text>
<text x="475.2" y="66.4" font-size="7.85" fill="#8a1212" stroke="#8a1212" stroke-width="0.3">-8 V</text>
<text x="475.2" y="75.4" font-size="7.85" fill="#0c8c0c" stroke="#0c8c0c" stroke-width="0.3">-6 V</text>
<text x="475.2" y="85" font-size="7.85" fill="#1c1cff" stroke="#1c1cff" stroke-width="0.3">-4 V</text>
<text x="475.2" y="94.6" font-size="7.85" fill="#1a1a8c" stroke="#1a1a8c" stroke-width="0.3">-2 V</text>
<text x="475.2" y="103.6" font-size="7.85" fill="#8c28ff" stroke="#8c28ff" stroke-width="0.3">0 V</text>
<text x="475.2" y="113.2" font-size="7.85" fill="#ff8cff" stroke="#ff8cff" stroke-width="0.3">2 V</text>
<text x="418.3" y="181.7" font-family="Liberation Serif, serif" font-size="16" text-anchor="middle" fill="#111">(<tspan font-weight="bold">b</tspan>)</text>
</g>
<g id="pc" font-family="Liberation Sans, sans-serif">
<path d="M35.60,350.30 L36.27,350.09 L36.93,350.00 L37.00,350.00 L37.60,350.11 L38.26,350.37 L38.93,350.57 L39.20,350.60 L39.59,350.37 L40.26,349.38 L40.50,349.00 L40.92,348.34 L41.59,347.12 L42.25,345.83 L42.92,344.64 L43.00,344.50 L43.58,343.60 L44.25,342.63 L44.91,341.70 L45.58,340.80 L46.24,339.91 L46.91,339.01 L47.50,338.20 L47.57,338.10 L48.24,337.15 L48.90,336.18 L49.57,335.20 L50.23,334.25 L50.90,333.34 L51.56,332.50 L52.00,332.00 L52.23,331.75 L52.89,331.03 L53.56,330.31 L54.22,329.63 L54.89,329.00 L55.55,328.43 L56.22,327.95 L56.88,327.56 L57.00,327.50 L57.55,327.27 L58.21,327.05 L58.88,326.86 L59.54,326.66 L60.00,326.50 L60.21,326.42 L60.87,326.16 L61.54,325.88 L62.20,325.59 L62.87,325.29 L63.53,324.98 L64.10,324.70 L64.20,324.65 L64.86,324.31 L65.53,323.95 L66.19,323.57 L66.86,323.18 L67.52,322.79 L68.00,322.50 L68.19,322.39 L68.85,322.02 L69.52,321.66 L70.18,321.26 L70.85,320.79 L71.30,320.40 L71.51,320.19 L72.18,319.31 L72.84,318.19 L73.51,316.95 L74.00,316.00 L74.17,315.66 L74.84,314.09 L75.50,312.33 L76.17,310.64 L76.83,309.27 L77.00,309.00 L77.50,308.26 L78.16,307.28 L78.83,306.39 L79.49,305.66 L80.16,305.17 L80.80,305.00 L80.82,305.00 L81.49,305.19 L82.15,305.66 L82.82,306.31 L83.00,306.50 L83.48,307.26 L84.15,308.87 L84.81,310.58 L85.00,311.00 L85.48,312.07 L86.14,313.53 L86.70,314.40 L86.81,314.51 L87.47,315.05 L88.14,315.45 L88.80,315.86 L89.00,316.00 L89.47,316.35 L90.13,316.85 L90.80,317.40 L91.40,318.00 L91.46,318.07 L92.13,318.95 L92.79,320.05 L93.46,321.26 L94.12,322.50 L94.79,323.66 L95.00,324.00 L95.45,324.69 L96.12,325.68 L96.78,326.65 L97.45,327.60 L98.11,328.54 L98.78,329.49 L99.44,330.46 L99.80,331.00 L100.11,331.46 L100.77,332.44 L101.44,333.43 L102.10,334.47 L102.77,335.58 L103.00,336.00 L103.43,336.82 L104.10,338.20 L104.76,339.68 L105.43,341.18 L105.70,341.80 L106.09,342.70 L106.76,344.26 L107.42,345.82 L107.50,346.00 L108.09,347.61 L108.75,349.38 L109.30,350.00 L109.42,350.00 L110.08,349.86 L110.75,349.61 L111.00,349.50 L111.41,349.23 L112.08,348.66 L112.50,348.50 L112.74,348.62 L113.41,349.61 L114.00,350.30 L114.07,350.32 L114.74,350.51 L115.40,350.65 L116.07,350.75 L116.73,350.80 L117.00,350.80 L117.40,350.78 L118.06,350.66 L118.73,350.49 L119.39,350.35 L120.00,350.30 L120.06,350.30 L120.72,350.40 L121.39,350.61 L122.05,350.83 L122.72,350.98 L123.00,351.00 L123.38,350.99 L124.05,350.93 L124.71,350.84 L125.38,350.74 L126.04,350.66 L126.71,350.61 L127.00,350.60 L127.37,350.63 L128.04,350.80 L128.70,351.02 L129.37,351.18 L129.50,351.20 L130.03,351.25 L130.70,351.30 L131.36,351.35 L132.03,351.38 L132.69,351.40 L133.00,351.40 L133.36,351.40 L134.02,351.40 L134.69,351.40 L135.35,351.40 L136.02,351.40 L136.68,351.40 L137.35,351.40 L138.01,351.40 L138.68,351.40 L139.34,351.40 L140.01,351.40 L140.67,351.40 L141.34,351.40 L142.00,351.40 L142.67,351.40 L143.33,351.40 L144.00,351.40 L144.66,351.40 L145.33,351.40 L145.99,351.40 L146.66,351.40 L147.32,351.40 L147.99,351.40 L148.65,351.40 L149.32,351.40 L149.98,351.40 L150.65,351.40 L151.31,351.40 L151.98,351.40 L152.64,351.40 L153.31,351.40 L153.97,351.40 L154.64,351.40 L155.30,351.40 L155.97,351.40 L156.63,351.40 L157.30,351.40 L157.96,351.40 L158.63,351.40 L159.29,351.40 L159.96,351.40 L160.62,351.40 L161.29,351.40 L161.95,351.40 L162.62,351.40 L163.28,351.40 L163.95,351.40 L164.61,351.40 L165.28,351.40 L165.94,351.40 L166.61,351.40 L167.27,351.40 L167.94,351.40 L168.60,351.40 L169.27,351.40 L169.93,351.40 L170.60,351.40 L171.26,351.40 L171.93,351.40 L172.59,351.40 L173.26,351.40 L173.92,351.40 L174.59,351.40 L175.25,351.40 L175.92,351.40 L176.58,351.40 L177.25,351.40 L177.91,351.40 L178.58,351.40 L179.24,351.40 L179.91,351.40 L180.57,351.40 L181.24,351.40 L181.90,351.40 L182.57,351.40 L183.23,351.40 L183.90,351.40 L184.56,351.40 L185.23,351.40 L185.89,351.40 L186.56,351.40 L187.22,351.40 L187.89,351.40 L188.55,351.40 L189.22,351.40 L189.88,351.40 L190.55,351.40 L191.21,351.40 L191.88,351.40 L192.54,351.40 L193.21,351.40 L193.87,351.40 L194.54,351.40 L195.20,351.40 L195.87,351.40 L196.53,351.40 L197.20,351.40 L197.86,351.40 L198.53,351.40 L199.19,351.40 L199.86,351.40 L200.52,351.40 L201.19,351.40 L201.85,351.40 L202.52,351.40 L203.18,351.40 L203.85,351.40 L204.51,351.40 L205.18,351.40 L205.84,351.40 L206.51,351.40 L207.17,351.40 L207.84,351.40 L208.50,351.40 L209.17,351.40 L209.83,351.40 L210.50,351.40 L211.16,351.40 L211.83,351.40 L212.49,351.40 L213.16,351.40 L213.82,351.40 L214.49,351.40 L215.15,351.40 L215.82,351.40 L216.48,351.40 L217.15,351.40 L217.81,351.40 L218.48,351.40 L219.14,351.40 L219.81,351.40 L220.47,351.40 L221.14,351.40 L221.80,351.40 L222.47,351.40 L223.13,351.40 L223.80,351.40" fill="none" stroke="#1a1a1a" stroke-width="1.1" stroke-linejoin="round"/>
<path d="M35.60,223.00 L36.27,223.28 L36.93,223.56 L37.60,223.84 L38.00,224.00 L38.26,224.10 L38.93,224.34 L39.59,224.57 L40.26,224.80 L40.92,225.07 L41.59,225.39 L41.60,225.40 L42.25,225.87 L42.92,226.53 L43.58,227.25 L44.25,227.91 L44.91,228.41 L45.10,228.50 L45.58,228.70 L46.24,228.96 L46.91,229.14 L47.50,229.20 L47.57,229.20 L48.24,228.96 L48.90,228.71 L49.00,228.70 L49.57,228.99 L50.23,229.70 L50.90,230.19 L51.00,230.20 L51.56,230.16 L52.23,230.03 L52.89,229.86 L53.56,229.69 L54.00,229.60 L54.22,229.56 L54.89,229.45 L55.55,229.33 L56.22,229.24 L56.88,229.20 L57.00,229.20 L57.55,229.22 L58.21,229.30 L58.88,229.40 L59.54,229.52 L60.00,229.60 L60.21,229.63 L60.87,229.72 L61.54,229.82 L62.20,229.95 L62.87,230.15 L63.00,230.20 L63.53,230.71 L64.20,231.90 L64.50,232.50 L64.86,233.31 L65.53,235.20 L66.19,237.18 L66.50,238.00 L66.86,238.85 L67.52,240.33 L68.19,241.73 L68.85,243.11 L69.50,244.50 L69.52,244.53 L70.18,245.94 L70.85,247.31 L71.51,248.75 L72.18,250.39 L72.40,251.00 L72.84,252.33 L73.51,254.75 L73.80,256.00 L74.17,257.95 L74.80,261.80 L74.84,262.01 L75.50,266.51 L76.00,268.90 L76.17,269.30 L76.83,270.45 L77.50,271.28 L78.00,272.00 L78.16,272.27 L78.83,273.29 L79.49,274.34 L80.16,275.60 L80.80,277.20 L80.82,277.26 L81.49,280.14 L82.00,283.00 L82.15,283.88 L82.82,288.27 L83.10,290.30 L83.48,293.22 L84.15,298.61 L84.30,299.80 L84.81,303.70 L85.48,308.35 L85.50,308.50 L86.14,312.21 L86.81,315.65 L87.47,318.86 L87.50,319.00 L88.14,321.99 L88.80,325.01 L89.47,327.84 L90.13,330.40 L90.30,331.00 L90.80,332.68 L91.46,334.75 L92.13,336.59 L92.50,337.50 L92.79,338.16 L93.46,339.59 L94.12,340.86 L94.79,341.92 L95.00,342.20 L95.45,342.74 L96.12,343.43 L96.78,344.03 L97.45,344.57 L98.00,345.00 L98.11,345.09 L98.78,345.58 L99.44,346.03 L100.11,346.47 L100.77,346.88 L101.44,347.29 L102.10,347.70 L102.10,347.70 L102.77,348.12 L103.43,348.53 L104.10,348.93 L104.76,349.33 L105.43,349.70 L106.00,350.00 L106.09,350.05 L106.76,350.41 L107.42,350.79 L108.09,351.15 L108.75,351.49 L109.42,351.76 L110.08,351.94 L110.50,352.00 L110.75,352.02 L111.41,352.07 L112.08,352.11 L112.74,352.15 L113.41,352.17 L114.07,352.19 L114.74,352.20 L115.00,352.20 L115.40,352.20 L116.07,352.20 L116.73,352.20 L117.40,352.20 L118.06,352.20 L118.73,352.20 L119.39,352.20 L120.06,352.20 L120.72,352.20 L121.39,352.20 L122.05,352.20 L122.72,352.20 L123.38,352.20 L124.05,352.20 L124.71,352.20 L125.38,352.20 L126.04,352.20 L126.71,352.20 L127.37,352.20 L128.04,352.20 L128.70,352.20 L129.37,352.20 L130.03,352.20 L130.70,352.20 L131.36,352.20 L132.03,352.20 L132.69,352.20 L133.36,352.20 L134.02,352.20 L134.69,352.20 L135.35,352.20 L136.02,352.20 L136.68,352.20 L137.35,352.20 L138.01,352.20 L138.68,352.20 L139.34,352.20 L140.01,352.20 L140.67,352.20 L141.34,352.20 L142.00,352.20 L142.67,352.20 L143.33,352.20 L144.00,352.20 L144.66,352.20 L145.33,352.20 L145.99,352.20 L146.66,352.20 L147.32,352.19 L147.99,352.19 L148.65,352.19 L149.32,352.19 L149.98,352.19 L150.65,352.19 L151.31,352.19 L151.98,352.19 L152.64,352.19 L153.31,352.19 L153.97,352.19 L154.64,352.19 L155.30,352.19 L155.97,352.19 L156.63,352.19 L157.30,352.19 L157.96,352.19 L158.63,352.19 L159.29,352.19 L159.96,352.19 L160.62,352.19 L161.29,352.18 L161.95,352.18 L162.62,352.18 L163.28,352.18 L163.95,352.18 L164.61,352.18 L165.28,352.18 L165.94,352.18 L166.61,352.18 L167.27,352.18 L167.94,352.18 L168.60,352.18 L169.27,352.18 L169.93,352.17 L170.60,352.17 L171.26,352.17 L171.93,352.17 L172.59,352.17 L173.26,352.17 L173.92,352.17 L174.59,352.17 L175.25,352.17 L175.92,352.16 L176.58,352.16 L177.25,352.16 L177.91,352.16 L178.58,352.16 L179.24,352.16 L179.91,352.16 L180.57,352.16 L181.24,352.15 L181.90,352.15 L182.57,352.15 L183.23,352.15 L183.90,352.15 L184.56,352.15 L185.23,352.15 L185.89,352.14 L186.56,352.14 L187.22,352.14 L187.89,352.14 L188.55,352.14 L189.22,352.14 L189.88,352.13 L190.55,352.13 L191.21,352.13 L191.88,352.13 L192.54,352.13 L193.21,352.13 L193.87,352.12 L194.54,352.12 L195.20,352.12 L195.87,352.12 L196.53,352.12 L197.20,352.11 L197.86,352.11 L198.53,352.11 L199.19,352.11 L199.86,352.11 L200.52,352.10 L201.19,352.10 L201.85,352.10 L202.52,352.10 L203.18,352.09 L203.85,352.09 L204.51,352.09 L205.18,352.09 L205.84,352.08 L206.51,352.08 L207.17,352.08 L207.84,352.08 L208.50,352.07 L209.17,352.07 L209.83,352.07 L210.50,352.06 L211.16,352.06 L211.83,352.06 L212.49,352.06 L213.16,352.05 L213.82,352.05 L214.49,352.05 L215.15,352.04 L215.82,352.04 L216.48,352.04 L217.15,352.03 L217.81,352.03 L218.48,352.03 L219.14,352.02 L219.81,352.02 L220.47,352.02 L221.14,352.01 L221.80,352.01 L222.47,352.01 L223.13,352.00 L223.80,352.00" fill="none" stroke="#3030f0" stroke-width="1.1" stroke-linejoin="round"/>
<line x1="35.6" y1="210.7" x2="223.8" y2="210.7" stroke="#666" stroke-width="0.9"/>
<line x1="35.6" y1="362.6" x2="223.8" y2="362.6" stroke="#666" stroke-width="0.9"/>
<line x1="35.6" y1="210.7" x2="35.6" y2="362.6" stroke="#6060ff" stroke-width="0.9"/>
<line x1="223.8" y1="210.7" x2="223.8" y2="362.6" stroke="#777" stroke-width="0.9"/>
<line x1="33.2" y1="221.6" x2="35.6" y2="221.6" stroke="#5050ff" stroke-width="0.8"/>
<text x="30.6" y="224.4" font-size="8.2" text-anchor="end" fill="#2222ff" stroke="#2222ff" stroke-width="0.28">0.6</text>
<line x1="33.2" y1="264.8" x2="35.6" y2="264.8" stroke="#5050ff" stroke-width="0.8"/>
<text x="30.6" y="267.6" font-size="8.2" text-anchor="end" fill="#2222ff" stroke="#2222ff" stroke-width="0.28">0.4</text>
<line x1="33.2" y1="308.3" x2="35.6" y2="308.3" stroke="#5050ff" stroke-width="0.8"/>
<text x="30.6" y="311.1" font-size="8.2" text-anchor="end" fill="#2222ff" stroke="#2222ff" stroke-width="0.28">0.2</text>
<line x1="33.2" y1="351.7" x2="35.6" y2="351.7" stroke="#5050ff" stroke-width="0.8"/>
<text x="30.6" y="354.5" font-size="8.2" text-anchor="end" fill="#2222ff" stroke="#2222ff" stroke-width="0.28">0.0</text>
<line x1="223.8" y1="210.7" x2="226.20000000000002" y2="210.7" stroke="#666" stroke-width="0.8"/>
<text x="229.10000000000002" y="213.5" font-size="8.2" fill="#222" stroke="#222" stroke-width="0.28">3</text>
<line x1="223.8" y1="257.3" x2="226.20000000000002" y2="257.3" stroke="#666" stroke-width="0.8"/>
<text x="229.10000000000002" y="260.1" font-size="8.2" fill="#222" stroke="#222" stroke-width="0.28">2</text>
<line x1="223.8" y1="303.8" x2="226.20000000000002" y2="303.8" stroke="#666" stroke-width="0.8"/>
<text x="229.10000000000002" y="306.6" font-size="8.2" fill="#222" stroke="#222" stroke-width="0.28">1</text>
<line x1="223.8" y1="351.3" x2="226.20000000000002" y2="351.3" stroke="#666" stroke-width="0.8"/>
<text x="229.10000000000002" y="354.1" font-size="8.2" fill="#222" stroke="#222" stroke-width="0.28">0</text>
<line x1="35.6" y1="362.6" x2="35.6" y2="365.0" stroke="#666" stroke-width="0.8"/>
<text x="35.6" y="374.4" font-size="8.2" text-anchor="middle" fill="#222" stroke="#222" stroke-width="0.28">-20</text>
<line x1="82.5" y1="362.6" x2="82.5" y2="365.0" stroke="#666" stroke-width="0.8"/>
<text x="82.5" y="374.4" font-size="8.2" text-anchor="middle" fill="#222" stroke="#222" stroke-width="0.28">-10</text>
<line x1="129.3" y1="362.6" x2="129.3" y2="365.0" stroke="#666" stroke-width="0.8"/>
<text x="129.3" y="374.4" font-size="8.2" text-anchor="middle" fill="#222" stroke="#222" stroke-width="0.28">0</text>
<line x1="176.5" y1="362.6" x2="176.5" y2="365.0" stroke="#666" stroke-width="0.8"/>
<text x="176.5" y="374.4" font-size="8.2" text-anchor="middle" fill="#222" stroke="#222" stroke-width="0.28">10</text>
<line x1="223.8" y1="362.6" x2="223.8" y2="365.0" stroke="#666" stroke-width="0.8"/>
<text x="223.8" y="374.4" font-size="8.2" text-anchor="middle" fill="#222" stroke="#222" stroke-width="0.28">20</text>
<text x="130" y="383.8" font-size="8.6" font-weight="bold" text-anchor="middle" fill="#222" stroke="#222" stroke-width="0.22">V<tspan font-size="6.2" dy="2">G</tspan><tspan dy="-2"> (V)</tspan></text>
<text transform="translate(15,286.4) rotate(-90)" font-size="9.3" font-weight="bold" text-anchor="middle" fill="#222" stroke="#222" stroke-width="0.22">I<tspan font-size="6.8" dy="2">DS</tspan><tspan dy="-2"> (nA)</tspan></text>
<text transform="translate(242.8,285) rotate(-90)" font-size="8.2" font-weight="bold" text-anchor="middle" fill="#222" stroke="#222" stroke-width="0.22">g<tspan font-size="5" dy="1.5">m</tspan><tspan dy="-1.5"> (pS)</tspan></text>
<text x="171.8" y="227" font-size="9.6" fill="#333" stroke="#333" stroke-width="0.28">V<tspan font-size="6.2">DS</tspan> = 0.1 V</text>
<text x="143" y="324" font-size="9.35" fill="#3535f5" stroke="#3535f5" stroke-width="0.28">Doped MoS<tspan font-size="6.2" dy="2">2</tspan></text>
<text x="143" y="338" font-size="9.3" fill="#222" textLength="76.3" lengthAdjust="spacingAndGlyphs" stroke="#222" stroke-width="0.28">Transconductance</text>
<text x="124.3" y="415" font-family="Liberation Serif, serif" font-size="15.5" text-anchor="middle" fill="#111">(<tspan font-weight="bold">c</tspan>)</text>
</g>
<g id="pd" font-family="Liberation Sans, sans-serif">
<path d="M329.70,356.70 L330.37,356.61 L331.03,356.52 L331.70,356.42 L332.36,356.31 L333.00,356.20 L333.03,356.19 L333.70,356.08 L334.36,355.97 L335.03,355.84 L335.70,355.68 L336.30,355.50 L336.36,355.48 L337.03,355.14 L337.69,354.66 L338.36,354.12 L338.50,354.00 L339.03,353.53 L339.69,352.87 L340.36,352.11 L341.00,351.30 L341.03,351.27 L341.69,350.26 L342.36,349.08 L343.02,347.83 L343.69,346.56 L344.00,346.00 L344.36,345.37 L345.02,344.19 L345.69,343.01 L346.35,341.80 L347.00,340.60 L347.02,340.56 L347.69,339.26 L348.35,337.91 L349.02,336.54 L349.69,335.16 L350.35,333.80 L350.50,333.50 L351.02,332.45 L351.68,331.10 L352.35,329.75 L353.02,328.41 L353.68,327.10 L354.10,326.30 L354.35,325.83 L355.02,324.59 L355.68,323.38 L356.35,322.18 L357.00,321.00 L357.01,320.97 L357.68,319.85 L358.35,318.80 L359.01,317.68 L359.68,316.35 L360.00,315.60 L360.34,314.60 L361.01,312.11 L361.68,309.45 L361.80,309.00 L362.34,306.96 L363.01,304.46 L363.60,302.60 L363.68,302.40 L364.34,300.76 L365.01,299.33 L365.67,298.03 L366.34,296.77 L367.00,295.50 L367.01,295.49 L367.67,294.26 L368.34,293.16 L369.01,292.07 L369.67,290.88 L370.34,289.46 L370.80,288.30 L371.00,287.67 L371.67,284.78 L372.34,281.44 L373.00,278.69 L373.10,278.40 L373.67,276.94 L374.33,275.51 L375.00,274.27 L375.67,273.10 L376.00,272.50 L376.33,271.90 L377.00,270.74 L377.67,269.63 L378.33,268.56 L379.00,267.50 L379.00,267.50 L379.66,266.48 L380.33,265.49 L381.00,264.51 L381.66,263.52 L382.00,263.00 L382.33,262.49 L383.00,261.47 L383.66,260.44 L384.33,259.36 L384.99,258.21 L385.00,258.20 L385.66,256.95 L386.33,255.59 L386.99,254.18 L387.66,252.75 L388.32,251.36 L388.50,251.00 L388.99,250.00 L389.66,248.62 L390.32,247.24 L390.99,245.92 L391.66,244.67 L392.10,243.90 L392.32,243.53 L392.99,242.46 L393.65,241.43 L394.32,240.47 L394.99,239.60 L395.50,239.00 L395.65,238.83 L396.32,238.15 L396.99,237.53 L397.65,236.95 L398.32,236.40 L398.98,235.86 L399.30,235.60 L399.65,235.31 L400.32,234.76 L400.98,234.22 L401.65,233.70 L402.31,233.19 L402.98,232.70 L403.65,232.23 L404.00,232.00 L404.31,231.80 L404.98,231.38 L405.65,230.97 L406.31,230.59 L406.98,230.21 L407.64,229.86 L408.31,229.53 L408.80,229.30 L408.98,229.22 L409.64,228.93 L410.31,228.65 L410.98,228.38 L411.64,228.12 L412.31,227.88 L412.97,227.64 L413.64,227.42 L414.00,227.30 L414.31,227.20 L414.97,227.00 L415.64,226.80 L416.30,226.61 L416.97,226.43 L417.64,226.25 L418.30,226.07 L418.97,225.89 L419.64,225.70 L420.00,225.60 L420.30,225.51 L420.97,225.31 L421.63,225.11 L422.30,224.90 L422.97,224.68 L423.63,224.47 L424.30,224.26 L424.97,224.04 L425.63,223.83 L426.30,223.63 L426.96,223.42 L427.63,223.23 L428.30,223.04 L428.96,222.86 L429.63,222.69 L430.00,222.60 L430.30,222.53 L430.96,222.37 L431.63,222.22 L432.29,222.07 L432.96,221.92 L433.63,221.77 L434.29,221.62 L434.96,221.48 L435.62,221.33 L436.29,221.19 L436.96,221.06 L437.62,220.92 L438.29,220.79 L438.96,220.66 L439.62,220.53 L440.29,220.41 L440.95,220.28 L441.62,220.17 L442.29,220.05 L442.95,219.94 L443.62,219.83 L444.29,219.72 L444.95,219.62 L445.62,219.52 L446.28,219.43 L446.95,219.34 L447.62,219.25 L448.00,219.20 L448.28,219.16 L448.95,219.08 L449.61,219.00 L450.28,218.93 L450.95,218.85 L451.61,218.77 L452.28,218.70 L452.95,218.63 L453.61,218.56 L454.28,218.49 L454.94,218.43 L455.61,218.36 L456.28,218.30 L456.94,218.24 L457.61,218.18 L458.28,218.12 L458.94,218.06 L459.61,218.00 L460.27,217.95 L460.94,217.90 L461.61,217.84 L462.27,217.79 L462.94,217.74 L463.60,217.70 L464.27,217.65 L464.94,217.60 L465.00,217.60 L465.60,217.56 L466.27,217.52 L466.94,217.48 L467.60,217.43 L468.27,217.40 L468.93,217.36 L469.60,217.32 L470.27,217.28 L470.93,217.25 L471.60,217.21 L472.27,217.18 L472.93,217.15 L473.60,217.11 L474.26,217.08 L474.93,217.05 L475.60,217.02 L476.26,216.99 L476.93,216.96 L477.59,216.93 L478.26,216.90 L478.93,216.87 L479.59,216.83 L480.26,216.80 L480.93,216.77 L481.59,216.74 L482.26,216.71 L482.92,216.68 L483.59,216.64 L484.26,216.61 L484.92,216.57 L485.59,216.54 L486.26,216.50 L486.30,216.50 L486.92,216.47 L487.59,216.43 L488.25,216.39 L488.92,216.35 L489.59,216.31 L490.25,216.27 L490.92,216.23 L491.58,216.19 L492.25,216.16 L492.92,216.12 L493.58,216.08 L494.25,216.04 L494.92,216.00 L495.58,215.96 L496.25,215.92 L496.91,215.88 L497.58,215.84 L498.25,215.80 L498.91,215.76 L499.58,215.72 L500.00,215.70 L500.25,215.69 L500.91,215.65 L501.58,215.61 L502.24,215.58 L502.91,215.54 L503.58,215.50 L504.24,215.47 L504.91,215.43 L505.57,215.39 L506.24,215.36 L506.91,215.32 L507.57,215.29 L508.24,215.25 L508.91,215.21 L509.57,215.18 L510.24,215.14 L510.90,215.11 L511.57,215.07 L512.24,215.04 L512.90,215.00 L513.57,214.97 L514.24,214.94 L514.90,214.90 L515.57,214.87 L516.23,214.83 L516.90,214.80" fill="none" stroke="#ee1010" stroke-width="1.8" stroke-linejoin="round"/>
<path d="M329.40,220.90 L330.06,220.97 L330.73,221.04 L331.39,221.11 L332.06,221.19 L332.72,221.27 L333.00,221.30 L333.39,221.35 L334.05,221.43 L334.72,221.52 L335.38,221.62 L336.05,221.71 L336.71,221.81 L337.38,221.91 L338.00,222.00 L338.04,222.01 L338.71,222.12 L339.37,222.26 L340.04,222.40 L340.70,222.53 L341.37,222.65 L342.03,222.74 L342.70,222.79 L343.00,222.80 L343.36,222.80 L344.03,222.77 L344.69,222.73 L345.36,222.68 L346.02,222.61 L346.69,222.54 L347.00,222.50 L347.35,222.44 L348.02,222.26 L348.68,222.05 L349.35,221.87 L350.00,221.80 L350.01,221.80 L350.68,221.80 L351.34,221.80 L352.01,221.80 L352.67,221.80 L353.34,221.80 L354.00,221.80 L354.67,221.80 L355.00,221.80 L355.33,221.81 L356.00,221.86 L356.66,221.96 L357.33,222.10 L357.99,222.26 L358.66,222.43 L358.90,222.50 L359.32,222.64 L359.99,222.97 L360.65,223.38 L361.31,223.84 L361.98,224.32 L362.64,224.78 L363.00,225.00 L363.31,225.19 L363.97,225.59 L364.64,225.99 L365.30,226.40 L365.97,226.80 L366.63,227.19 L367.30,227.59 L367.96,227.98 L368.00,228.00 L368.63,228.35 L369.29,228.68 L369.96,229.00 L370.62,229.32 L371.29,229.67 L371.95,230.06 L372.62,230.52 L373.10,230.90 L373.28,231.06 L373.95,231.80 L374.61,232.71 L375.28,233.76 L375.94,234.90 L376.00,235.00 L376.61,236.20 L377.27,237.73 L377.94,239.38 L378.60,241.05 L379.00,242.00 L379.27,242.62 L379.93,244.18 L380.60,245.74 L381.26,247.29 L381.93,248.83 L382.00,249.00 L382.59,250.33 L383.26,251.78 L383.92,253.24 L384.59,254.78 L385.00,255.80 L385.25,256.45 L385.92,258.30 L386.58,260.26 L387.25,262.27 L387.91,264.28 L388.50,266.00 L388.58,266.21 L389.24,268.09 L389.91,269.94 L390.57,271.78 L391.24,273.61 L391.90,275.45 L392.10,276.00 L392.56,277.29 L393.23,279.16 L393.89,281.01 L394.56,282.83 L395.00,284.00 L395.22,284.59 L395.89,286.29 L396.55,287.94 L397.00,289.00 L397.22,289.50 L397.88,290.84 L398.55,292.07 L399.21,293.35 L399.88,294.86 L400.50,296.60 L400.54,296.74 L401.21,299.31 L401.87,302.67 L402.54,306.73 L402.80,308.50 L403.20,311.79 L403.87,318.58 L404.00,320.00 L404.53,326.44 L405.20,334.58 L405.20,334.60 L405.86,341.50 L406.50,347.00 L406.53,347.20 L407.19,352.20 L407.86,355.37 L408.00,355.50 L408.52,355.14 L409.19,354.05 L409.50,353.50 L409.85,352.86 L410.52,351.42 L411.10,350.00 L411.18,349.79 L411.85,347.76 L412.51,345.71 L412.80,345.00 L413.18,344.23 L413.84,343.06 L414.51,342.07 L414.70,341.80 L415.17,341.17 L415.84,340.33 L416.50,339.61 L417.00,339.20 L417.17,339.09 L417.83,338.67 L418.50,338.31 L419.16,338.02 L419.83,337.76 L420.00,337.70 L420.49,337.54 L421.16,337.35 L421.82,337.18 L422.49,337.04 L422.70,337.00 L423.15,336.92 L423.81,336.81 L424.48,336.70 L425.14,336.61 L425.81,336.52 L426.47,336.44 L427.14,336.36 L427.80,336.28 L428.47,336.20 L429.13,336.12 L429.80,336.03 L430.00,336.00 L430.46,335.94 L431.13,335.85 L431.79,335.76 L432.46,335.67 L433.12,335.58 L433.79,335.50 L434.45,335.41 L435.12,335.32 L435.78,335.23 L436.45,335.14 L437.11,335.04 L437.78,334.95 L438.44,334.84 L439.11,334.74 L439.77,334.63 L440.44,334.51 L440.50,334.50 L441.10,334.39 L441.77,334.25 L442.43,334.11 L443.10,333.96 L443.76,333.81 L444.43,333.65 L445.09,333.48 L445.76,333.32 L446.42,333.15 L447.00,333.00 L447.09,332.98 L447.75,332.80 L448.42,332.62 L449.08,332.43 L449.75,332.23 L450.41,332.03 L451.08,331.84 L451.74,331.64 L452.41,331.45 L453.07,331.26 L453.30,331.20 L453.74,331.08 L454.40,330.91 L455.06,330.74 L455.73,330.57 L456.39,330.40 L457.06,330.23 L457.72,330.07 L458.00,330.00 L458.39,329.90 L459.05,329.73 L459.72,329.56 L460.38,329.38 L461.05,329.21 L461.71,329.05 L462.38,328.90 L463.04,328.76 L463.40,328.70 L463.71,328.64 L464.37,328.52 L465.04,328.40 L465.70,328.30 L466.37,328.22 L467.00,328.20 L467.03,328.20 L467.70,328.23 L468.36,328.30 L469.03,328.40 L469.69,328.51 L470.36,328.62 L471.00,328.70 L471.02,328.70 L471.69,328.77 L472.35,328.83 L473.02,328.89 L473.68,328.95 L474.35,329.00 L475.01,329.06 L475.68,329.11 L476.34,329.16 L477.01,329.22 L477.67,329.27 L478.00,329.30 L478.34,329.33 L479.00,329.39 L479.67,329.46 L480.33,329.52 L481.00,329.59 L481.66,329.66 L482.33,329.73 L482.99,329.79 L483.66,329.85 L484.32,329.90 L484.99,329.94 L485.65,329.98 L486.30,330.00 L486.31,330.00 L486.98,330.02 L487.64,330.03 L488.31,330.05 L488.97,330.06 L489.64,330.07 L490.30,330.08 L490.97,330.09 L491.63,330.10 L492.30,330.10 L492.96,330.11 L493.63,330.12 L494.29,330.12 L494.96,330.13 L495.62,330.14 L496.29,330.15 L496.95,330.15 L497.62,330.16 L498.28,330.17 L498.95,330.18 L499.61,330.19 L500.00,330.20 L500.28,330.21 L500.94,330.22 L501.61,330.23 L502.27,330.25 L502.94,330.26 L503.60,330.28 L504.27,330.30 L504.93,330.31 L505.60,330.33 L506.26,330.35 L506.93,330.37 L507.59,330.39 L508.26,330.41 L508.92,330.43 L509.59,330.45 L510.25,330.47 L510.92,330.49 L511.58,330.51 L512.25,330.53 L512.91,330.56 L513.58,330.58 L514.24,330.60 L514.91,330.63 L515.57,330.65 L516.24,330.67 L516.90,330.70" fill="none" stroke="#1515ee" stroke-width="1.8" stroke-linejoin="round"/>
<line x1="329.4" y1="210.9" x2="516.9" y2="210.9" stroke="#666" stroke-width="0.9"/>
<line x1="329.4" y1="362.3" x2="516.9" y2="362.3" stroke="#666" stroke-width="0.9"/>
<line x1="329.4" y1="210.9" x2="329.4" y2="362.3" stroke="#ff7070" stroke-width="0.9"/>
<line x1="516.9" y1="210.9" x2="516.9" y2="362.3" stroke="#6060ff" stroke-width="0.9"/>
<line x1="327.2" y1="225.4" x2="329.4" y2="225.4" stroke="#ff5050" stroke-width="0.8"/>
<text x="325.79999999999995" y="228.70000000000002" font-size="7.4" text-anchor="end" fill="#f02020" stroke="#f02020" stroke-width="0.28">10<tspan font-size="5.4" dy="-3">-6</tspan></text>
<line x1="327.2" y1="252.7" x2="329.4" y2="252.7" stroke="#ff5050" stroke-width="0.8"/>
<text x="325.79999999999995" y="256.0" font-size="7.4" text-anchor="end" fill="#f02020" stroke="#f02020" stroke-width="0.28">10<tspan font-size="5.4" dy="-3">-7</tspan></text>
<line x1="327.2" y1="279.8" x2="329.4" y2="279.8" stroke="#ff5050" stroke-width="0.8"/>
<text x="325.79999999999995" y="283.1" font-size="7.4" text-anchor="end" fill="#f02020" stroke="#f02020" stroke-width="0.28">10<tspan font-size="5.4" dy="-3">-8</tspan></text>
<line x1="327.2" y1="307" x2="329.4" y2="307" stroke="#ff5050" stroke-width="0.8"/>
<text x="325.79999999999995" y="310.3" font-size="7.4" text-anchor="end" fill="#f02020" stroke="#f02020" stroke-width="0.28">10<tspan font-size="5.4" dy="-3">-9</tspan></text>
<line x1="327.2" y1="334.5" x2="329.4" y2="334.5" stroke="#ff5050" stroke-width="0.8"/>
<text x="325.79999999999995" y="337.8" font-size="7.4" text-anchor="end" fill="#f02020" stroke="#f02020" stroke-width="0.28">10<tspan font-size="5.4" dy="-3">-10</tspan></text>
<line x1="327.2" y1="361.8" x2="329.4" y2="361.8" stroke="#ff5050" stroke-width="0.8"/>
<text x="325.79999999999995" y="365.1" font-size="7.4" text-anchor="end" fill="#f02020" stroke="#f02020" stroke-width="0.28">10<tspan font-size="5.4" dy="-3">-11</tspan></text>
<line x1="516.9" y1="211.4" x2="519.1" y2="211.4" stroke="#5050ff" stroke-width="0.8"/>
<text x="521.3" y="214.4" font-size="7.6" fill="#2828f0" stroke="#2828f0" stroke-width="0.28">10<tspan font-size="5" dy="-3">-9</tspan></text>
<line x1="516.9" y1="254" x2="519.1" y2="254" stroke="#5050ff" stroke-width="0.8"/>
<text x="521.3" y="257" font-size="7.6" fill="#2828f0" stroke="#2828f0" stroke-width="0.28">10<tspan font-size="5" dy="-3">-10</tspan></text>
<line x1="516.9" y1="296.3" x2="519.1" y2="296.3" stroke="#5050ff" stroke-width="0.8"/>
<text x="521.3" y="299.3" font-size="7.6" fill="#2828f0" stroke="#2828f0" stroke-width="0.28">10<tspan font-size="5" dy="-3">-11</tspan></text>
<line x1="516.9" y1="338.6" x2="519.1" y2="338.6" stroke="#5050ff" stroke-width="0.8"/>
<text x="521.3" y="341.6" font-size="7.6" fill="#2828f0" stroke="#2828f0" stroke-width="0.28">10<tspan font-size="5" dy="-3">-12</tspan></text>
<line x1="329.6" y1="362.3" x2="329.6" y2="364.7" stroke="#666" stroke-width="0.8"/>
<text x="329.6" y="374" font-size="8.2" text-anchor="middle" fill="#222" stroke="#222" stroke-width="0.28">-20</text>
<line x1="376.7" y1="362.3" x2="376.7" y2="364.7" stroke="#666" stroke-width="0.8"/>
<text x="376.7" y="374" font-size="8.2" text-anchor="middle" fill="#222" stroke="#222" stroke-width="0.28">-10</text>
<line x1="423.8" y1="362.3" x2="423.8" y2="364.7" stroke="#666" stroke-width="0.8"/>
<text x="423.8" y="374" font-size="8.2" text-anchor="middle" fill="#222" stroke="#222" stroke-width="0.28">0</text>
<line x1="470.4" y1="362.3" x2="470.4" y2="364.7" stroke="#666" stroke-width="0.8"/>
<text x="470.4" y="374" font-size="8.2" text-anchor="middle" fill="#222" stroke="#222" stroke-width="0.28">10</text>
<line x1="516.9" y1="362.3" x2="516.9" y2="364.7" stroke="#666" stroke-width="0.8"/>
<text x="516.9" y="374" font-size="8.2" text-anchor="middle" fill="#222" stroke="#222" stroke-width="0.28">20</text>
<text x="422.4" y="383.4" font-size="9.8" font-weight="bold" text-anchor="middle" fill="#222" stroke="#222" stroke-width="0.22">V<tspan font-size="7" dy="2.2">G</tspan><tspan dy="-2.2"> (V)</tspan></text>
<text transform="translate(307.8,287) rotate(-90)" font-size="9.6" font-weight="bold" text-anchor="middle" fill="#222" stroke="#222" stroke-width="0.22">I<tspan font-size="6.6" dy="1.6">DS</tspan><tspan dy="-1.6"> (A)</tspan></text>
<text transform="translate(543,286) rotate(-90)" font-size="8.2" font-weight="bold" text-anchor="middle" fill="#222" stroke="#222" stroke-width="0.22">I<tspan font-size="6" dy="1.8">DS</tspan><tspan dy="-1.8"> (A)</tspan></text>
<text x="335" y="259.4" font-size="12.2" fill="#ee1515" stroke="#ee1515" stroke-width="0.28">Pristine</text>
<text x="335" y="274.8" font-size="12.2" fill="#ee1515" stroke="#ee1515" stroke-width="0.28">MoS<tspan font-size="8" dy="2.5">2</tspan></text>
<text x="440.5" y="323" font-size="13" fill="#1a1aee" stroke="#1a1aee" stroke-width="0.28">Doped MoS<tspan font-size="8.6" dy="2.6">2</tspan></text>
<text x="459.6" y="350.5" font-size="10" fill="#333" stroke="#333" stroke-width="0.28">V<tspan font-size="6.6" dy="2">DS</tspan><tspan dy="-2"> = 0.1 V</tspan></text>
<defs><radialGradient id="ig" cx="0.36" cy="0.55" r="0.8"><stop offset="0" stop-color="#c44416"/><stop offset="0.45" stop-color="#b03610"/><stop offset="1" stop-color="#80220a"/></radialGradient><clipPath id="ic"><rect x="419.6" y="229.6" width="93.60000000000002" height="78.00000000000003"/></clipPath></defs>
<rect x="419.6" y="229.6" width="93.60000000000002" height="78.00000000000003" fill="url(#ig)"/>
<g clip-path="url(#ic)">
<linearGradient id="bg2" x1="0" y1="0" x2="1" y2="1"><stop offset="0" stop-color="#f66c18"/><stop offset="0.5" stop-color="#fc7e20"/><stop offset="1" stop-color="#f87a1c"/></linearGradient>
<polygon points="419.6,229.6 430.6,229.6 436.2,236.5 442.0,239.6 450.0,244.6 458.1,250.2 466.2,255.9 471.8,260.0 473.8,264.2 474.8,272.3 475.7,278.5 475.5,285.9 473.6,289.5 457.3,307.6 437.3,307.6 448.2,300.5 460.9,293.2 467.7,287.7 467.3,278.5 465.2,269.1 465.4,264.4 463.5,261.9 458.1,259.5 449.9,256.8 440.2,253.3 432.2,251.9 426.5,247.8 419.6,242.2" fill="#d85a16" stroke="#d85a16" stroke-width="1" stroke-linejoin="round"/>
<polygon points="419.6,229.6 430.6,229.6 436.2,236.5 442.0,239.6 450.0,244.6 458.1,250.2 466.2,255.9 471.8,260.0 473.8,264.2 474.8,272.3 475.7,278.5 475.5,285.9 473.6,289.5 457.3,307.6 437.3,307.6 448.2,300.5 460.9,293.2 467.7,287.7 467.3,278.5 465.2,269.1 465.4,264.4 463.5,261.9 458.1,259.5 449.9,256.8 440.2,253.3 432.2,251.9 426.5,247.8 419.6,242.2" fill="url(#bg2)" />
<polygon points="470.5,268.0 474.0,268.0 474.8,278.5 474.6,285.5 472.8,289.0 456.0,307.6 449.0,307.6 466.0,292.0 471.8,286.5 471.6,278.5" fill="#ff8c2c" opacity="0.8"/>
<circle cx="435.9" cy="291.4" r="1.1" fill="#e8701c"/><line x1="436.2" y1="292.5" x2="439" y2="302" stroke="#9c3010" stroke-width="0.8" opacity="0.7"/>
<circle cx="433.2" cy="257.2" r="1.2" fill="#8e2a10" opacity="0.6"/>
</g>
<polygon points="459.6,261.5 453.3,261.5 455.0,263.2 451.2,266.6 454.5,269.8 457.9,266.1 459.6,267.2" fill="none" stroke="#1a0a05" stroke-width="1.2" stroke-linejoin="miter"/>
<polygon points="480.4,266.0 480.1,258.0 482.8,261.3 484.9,258.9 489.0,263.4 485.7,266.0 487.5,268.4" fill="none" stroke="#1a0a05" stroke-width="1.2" stroke-linejoin="miter"/>
<polygon points="462.5,288.9 462.5,283.3 460.6,284.4 458.4,280.9 455.1,283.6 457.6,287.2 456.6,288.9" fill="none" stroke="#1a0a05" stroke-width="1.2" stroke-linejoin="miter"/>
<polygon points="463.3,270 477.1,266.8 472.1,281.1" fill="none" stroke="#1a0a05" stroke-width="1.4" stroke-dasharray="1.3,1.2"/>
<g fill="#fff" font-size="8.7">
<text x="451.2" y="242">SiO<tspan font-size="5.8" dy="1.8">2</tspan><tspan dy="-1.8">/Si</tspan></text>
<text x="485.3" y="245.8">Doped</text>
<text x="485.3" y="256.2">MoS<tspan font-size="5.8" dy="1.8">2</tspan></text>
<text x="423.3" y="278.4">Electrode</text>
<text x="489.6" y="297" font-size="8.2" textLength="20" lengthAdjust="spacingAndGlyphs" stroke="#fff" stroke-width="0.25">10μm</text>
<rect x="495.6" y="299.7" width="11.2" height="2.5"/>
</g>
<text x="418" y="415" font-family="Liberation Serif, serif" font-size="15.5" text-anchor="middle" fill="#111">(<tspan font-weight="bold">d</tspan>)</text>
</g>
</svg>
</body></html>
